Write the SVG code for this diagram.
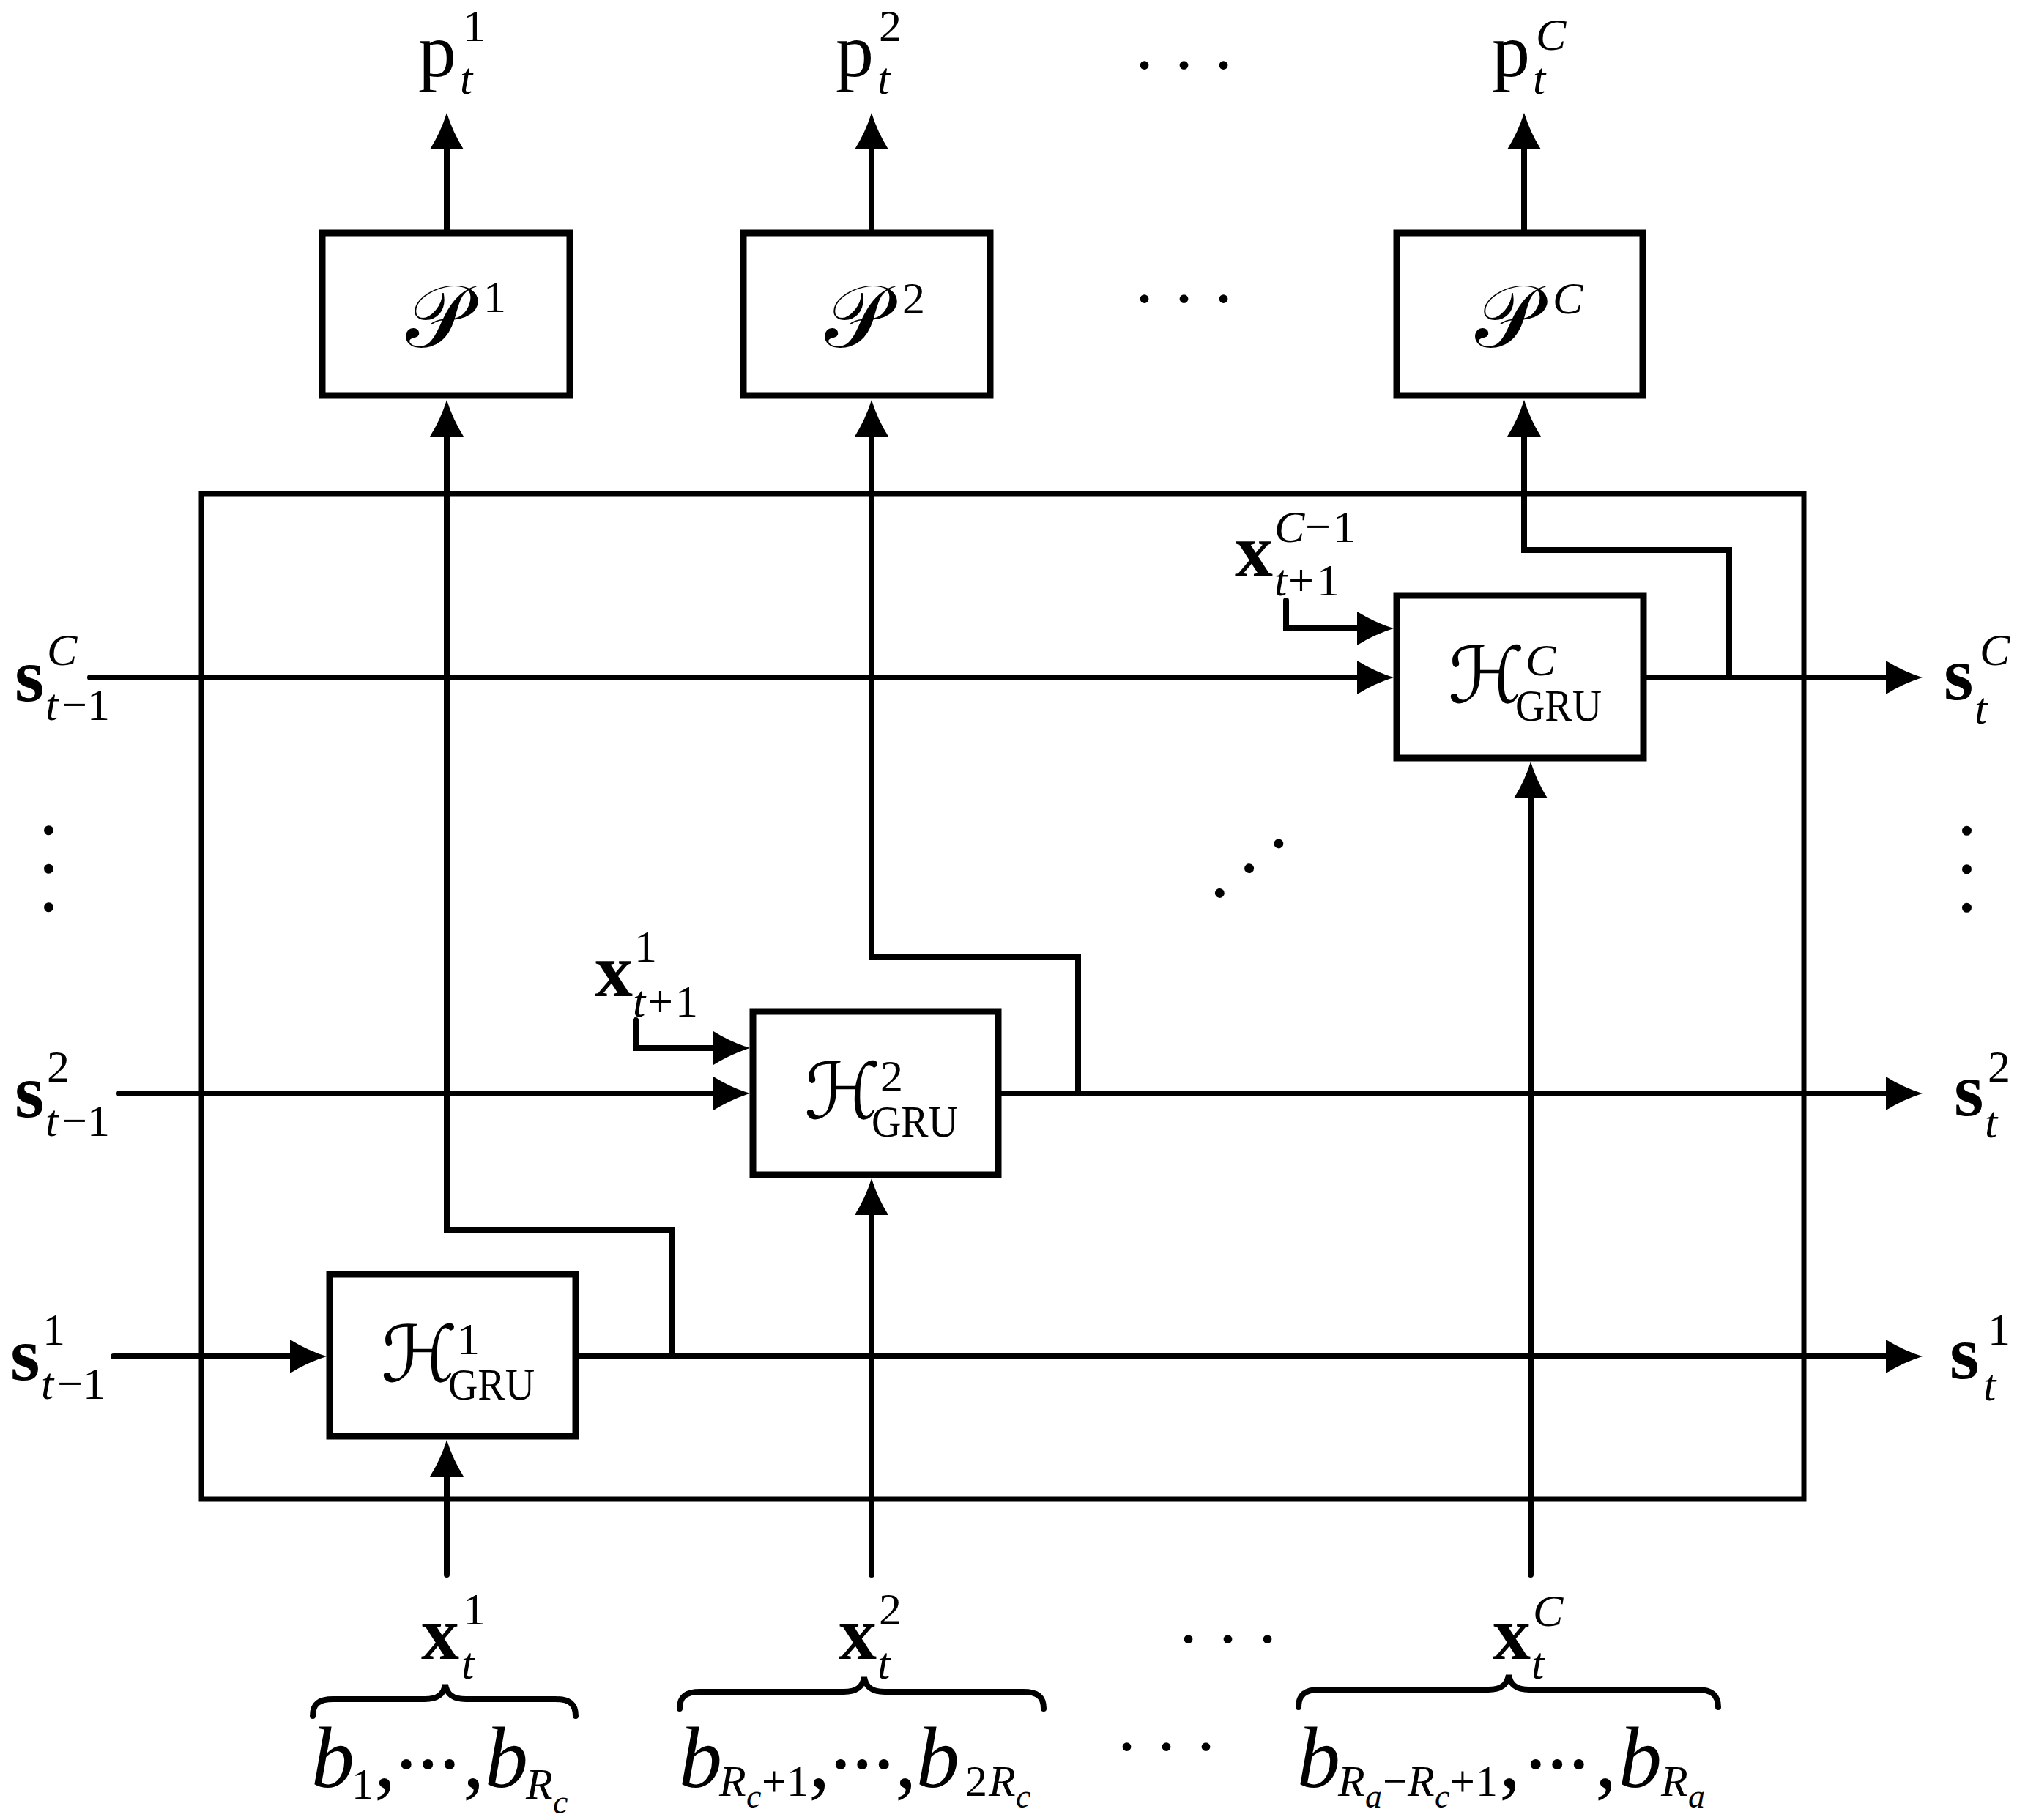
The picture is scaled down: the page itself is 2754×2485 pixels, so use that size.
<svg xmlns="http://www.w3.org/2000/svg" width="2754" height="2485" viewBox="0 0 2754 2485">
<style>
text{font-family:'Liberation Serif','Times New Roman',serif;fill:#000}
.ln{stroke:#000;stroke-width:8;fill:none;stroke-linecap:round;stroke-linejoin:miter}
.br{stroke:#000;stroke-width:8;fill:none;stroke-linecap:round}
.box{stroke:#000;stroke-width:9;fill:#fff}
.frame{stroke:#000;stroke-width:7;fill:none}
.bd{font-weight:bold}
.it{font-style:italic}
.big{font-size:104px}
.sm{font-size:62px}
.ssm{font-size:46px}
.bb{font-size:118px}
.bs{font-size:60px}
.scr{font-family:'DejaVu Serif','DejaVu Sans',serif;font-size:106px}
.scp{font-family:'DejaVu Serif','DejaVu Sans',serif;font-size:120px}
.dots{font-size:100px;letter-spacing:29px}
.vd{font-size:110px;letter-spacing:25px}
</style>
<defs>
<marker id="ah" viewBox="0 -26 52 52" refX="30" refY="0" markerWidth="52" markerHeight="52" markerUnits="userSpaceOnUse" orient="auto">
<path d="M0,-23 Q24,-8 50,0 Q24,8 0,23 Z" fill="#000"/>
</marker>
</defs>
<rect width="2754" height="2485" fill="#fff"/>
<g id="frame"><rect class="frame" x="275" y="674" width="2188" height="1373"/></g>
<g id="connectors">
<path class="ln" d="M123,925 H1883" marker-end="url(#ah)"/>
<path class="ln" d="M2244,925 H2605" marker-end="url(#ah)"/>
<path class="ln" d="M163,1493 H1004" marker-end="url(#ah)"/>
<path class="ln" d="M1363,1493 H2605" marker-end="url(#ah)"/>
<path class="ln" d="M155,1852 H426" marker-end="url(#ah)"/>
<path class="ln" d="M786,1852 H2605" marker-end="url(#ah)"/>
<path class="ln" d="M610,2150 V1986" marker-end="url(#ah)"/>
<path class="ln" d="M1190,2150 V1629" marker-end="url(#ah)"/>
<path class="ln" d="M2090,2150 V1060" marker-end="url(#ah)"/>
<path class="ln" d="M917,1852 V1679 H610 V566" marker-end="url(#ah)"/>
<path class="ln" d="M1472,1493 V1307 H1190 V566" marker-end="url(#ah)"/>
<path class="ln" d="M2361,925 V751 H2081 V566" marker-end="url(#ah)"/>
<path class="ln" d="M610,318 V174" marker-end="url(#ah)"/>
<path class="ln" d="M1190,318 V174" marker-end="url(#ah)"/>
<path class="ln" d="M2081,318 V174" marker-end="url(#ah)"/>
<path class="ln" d="M868,1393 V1431 H1004" marker-end="url(#ah)"/>
<path class="ln" d="M1756,820 V858 H1883" marker-end="url(#ah)"/>
</g>
<g id="P1"><rect class="box" x="440" y="318" width="338" height="222"/>
<text><tspan class="scp" x="554" y="474">𝒫</tspan><tspan class="sm" x="660" y="426">1</tspan></text></g>
<g id="P2"><rect class="box" x="1015" y="318" width="337" height="222"/>
<text><tspan class="scp" x="1126" y="474">𝒫</tspan><tspan class="sm" x="1232" y="428">2</tspan></text></g>
<g id="PC"><rect class="box" x="1907" y="318" width="336" height="222"/>
<text><tspan class="scp" x="2014" y="474">𝒫</tspan><tspan class="sm it" x="2120" y="428">C</tspan></text></g>
<g id="H1"><rect class="box" x="450" y="1740" width="336" height="221"/>
<text><tspan class="scr" x="520" y="1886">ℋ</tspan><tspan class="sm" x="624" y="1849">1</tspan><tspan class="sm" x="612" y="1911" textLength="118" lengthAdjust="spacingAndGlyphs">GRU</tspan></text></g>
<g id="H2"><rect class="box" x="1028" y="1381" width="335" height="223"/>
<text><tspan class="scr" x="1098" y="1527">ℋ</tspan><tspan class="sm" x="1202" y="1490">2</tspan><tspan class="sm" x="1190" y="1552" textLength="118" lengthAdjust="spacingAndGlyphs">GRU</tspan></text></g>
<g id="HC"><rect class="box" x="1907" y="813" width="337" height="222"/>
<text><tspan class="scr" x="1977" y="959">ℋ</tspan><tspan class="sm it" x="2083" y="922">C</tspan><tspan class="sm" x="2069" y="984" textLength="118" lengthAdjust="spacingAndGlyphs">GRU</tspan></text></g>
<g id="outputs">
<text><tspan class="big" x="571" y="104">p</tspan><tspan class="sm" x="632" y="56">1</tspan><tspan class="sm it" x="628" y="128">t</tspan></text>
<text><tspan class="big" x="1141" y="104">p</tspan><tspan class="sm" x="1200" y="56">2</tspan><tspan class="sm it" x="1198" y="128">t</tspan></text>
<text><tspan class="big" x="2037" y="104">p</tspan><tspan class="sm it" x="2097" y="68">C</tspan><tspan class="sm it" x="2093" y="128">t</tspan></text>
<text class="dots" x="1550" y="94">...</text>
<text class="dots" x="1550" y="413">...</text>
</g>
<g id="state-labels">
<text><tspan class="big bd" x="20" y="957">s</tspan><tspan class="sm it" x="64" y="908">C</tspan><tspan class="sm it" x="62" y="983">t</tspan><tspan class="sm" x="84" y="983">−1</tspan></text>
<text><tspan class="big bd" x="20" y="1525">s</tspan><tspan class="sm" x="64" y="1477">2</tspan><tspan class="sm it" x="62" y="1551">t</tspan><tspan class="sm" x="84" y="1551">−1</tspan></text>
<text><tspan class="big bd" x="14" y="1884">s</tspan><tspan class="sm" x="58" y="1836">1</tspan><tspan class="sm it" x="56" y="1910">t</tspan><tspan class="sm" x="78" y="1910">−1</tspan></text>
<text><tspan class="big bd" x="2654" y="955">s</tspan><tspan class="sm it" x="2703" y="908">C</tspan><tspan class="sm it" x="2696" y="988">t</tspan></text>
<text><tspan class="big bd" x="2668" y="1523">s</tspan><tspan class="sm" x="2714" y="1477">2</tspan><tspan class="sm it" x="2710" y="1553">t</tspan></text>
<text><tspan class="big bd" x="2662" y="1882">s</tspan><tspan class="sm" x="2714" y="1836">1</tspan><tspan class="sm it" x="2708" y="1912">t</tspan></text>
<text class="vd" x="62" y="1120" transform="rotate(90 62 1120)">...</text>
<text class="vd" x="2690" y="1253" transform="rotate(-90 2690 1253)">...</text>
<text class="vd" x="1658" y="1232" transform="rotate(-40 1658 1232)">...</text>
</g>
<g id="next-inputs">
<text><tspan class="big bd" x="812" y="1360">x</tspan><tspan class="sm" x="866" y="1313">1</tspan><tspan class="sm it" x="864" y="1388">t</tspan><tspan class="sm" x="884" y="1388">+</tspan><tspan class="sm" x="922" y="1388">1</tspan></text>
<text><tspan class="big bd" x="1686" y="787">x</tspan><tspan class="sm it" x="1740" y="740">C</tspan><tspan class="sm" x="1782" y="740">−</tspan><tspan class="sm" x="1820" y="740">1</tspan><tspan class="sm it" x="1740" y="813">t</tspan><tspan class="sm" x="1759" y="813">+</tspan><tspan class="sm" x="1798" y="813">1</tspan></text>
</g>
<g id="inputs">
<text><tspan class="big bd" x="575" y="2265">x</tspan><tspan class="sm" x="632" y="2218">1</tspan><tspan class="sm it" x="630" y="2292">t</tspan></text>
<text><tspan class="big bd" x="1145" y="2265">x</tspan><tspan class="sm" x="1200" y="2218">2</tspan><tspan class="sm it" x="1198" y="2292">t</tspan></text>
<text><tspan class="big bd" x="2038" y="2265">x</tspan><tspan class="sm it" x="2093" y="2220">C</tspan><tspan class="sm it" x="2091" y="2292">t</tspan></text>
<text class="dots" x="1610" y="2243">...</text>
<path class="br" d="M427,2343 C427,2326 436,2320 455,2320 L580,2320 C598,2320 606,2313 608,2300 C610,2313 618,2320 636,2320 L758,2320 C777,2320 786,2326 786,2343"/>
<path class="br" d="M928,2333 C928,2316 937,2310 956,2310 L1152,2310 C1170,2310 1178,2303 1180,2290 C1182,2303 1190,2310 1208,2310 L1397,2310 C1416,2310 1425,2316 1425,2333"/>
<path class="br" d="M1773,2331 C1773,2314 1782,2307 1801,2307 L2032,2307 C2050,2307 2058,2300 2060,2287 C2062,2300 2070,2307 2088,2307 L2318,2307 C2337,2307 2346,2314 2346,2331"/>
<text><tspan class="bb it" x="425" y="2440">b</tspan><tspan class="bs" x="480" y="2456">1</tspan><tspan class="bb" x="511" y="2440">,</tspan><tspan class="bb" x="540" y="2414">...</tspan><tspan class="bb" x="632" y="2440">,</tspan><tspan class="bb it" x="662" y="2440">b</tspan><tspan class="bs it" x="718" y="2456">R</tspan><tspan class="ssm it" x="755" y="2476">c</tspan></text>
<text><tspan class="bb it" x="927" y="2440">b</tspan><tspan class="bs it" x="982" y="2452">R</tspan><tspan class="ssm it" x="1019" y="2468">c</tspan><tspan class="bs" x="1040" y="2452">+</tspan><tspan class="bs" x="1074" y="2452">1</tspan><tspan class="bb" x="1104" y="2440">,</tspan><tspan class="bb" x="1133" y="2414">...</tspan><tspan class="bb" x="1222" y="2440">,</tspan><tspan class="bb it" x="1251" y="2440">b</tspan><tspan class="bs" x="1318" y="2452">2</tspan><tspan class="bs it" x="1350" y="2452">R</tspan><tspan class="ssm it" x="1387" y="2468">c</tspan></text>
<text class="dots" x="1526" y="2390" letter-spacing="25">...</text>
<text><tspan class="bb it" x="1771" y="2440">b</tspan><tspan class="bs it" x="1827" y="2452">R</tspan><tspan class="ssm it" x="1864" y="2468">a</tspan><tspan class="bs" x="1888" y="2452">−</tspan><tspan class="bs it" x="1922" y="2452">R</tspan><tspan class="ssm it" x="1959" y="2468">c</tspan><tspan class="bs" x="1980" y="2452">+</tspan><tspan class="bs" x="2015" y="2452">1</tspan><tspan class="bb" x="2047" y="2440">,</tspan><tspan class="bb" x="2082" y="2414">...</tspan><tspan class="bb" x="2178" y="2440">,</tspan><tspan class="bb it" x="2210" y="2440">b</tspan><tspan class="bs it" x="2268" y="2452">R</tspan><tspan class="ssm it" x="2305" y="2468">a</tspan></text>
</g>
</svg>
